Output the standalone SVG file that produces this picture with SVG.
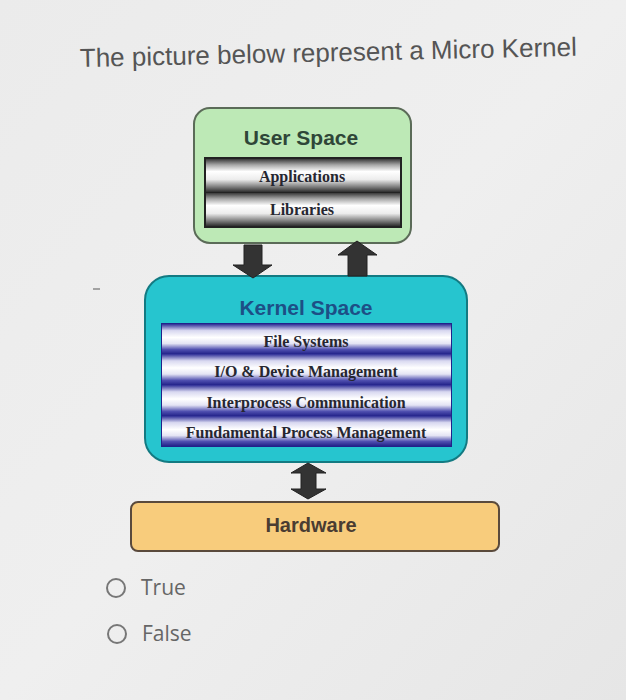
<svg xmlns="http://www.w3.org/2000/svg" width="626" height="700" viewBox="0 0 626 700">
<defs>
<linearGradient id="bg" x1="0" y1="0" x2="1" y2="1">
<stop offset="0" stop-color="#ebebeb"/>
<stop offset="0.5" stop-color="#efefef"/>
<stop offset="1" stop-color="#e6e6e6"/>
</linearGradient>
<linearGradient id="metal" x1="0" y1="0" x2="0" y2="1">
<stop offset="0" stop-color="#3a3a3a"/>
<stop offset="0.18" stop-color="#a8a8a8"/>
<stop offset="0.38" stop-color="#ffffff"/>
<stop offset="0.62" stop-color="#ececec"/>
<stop offset="0.86" stop-color="#767676"/>
<stop offset="1" stop-color="#2e2e2e"/>
</linearGradient>
<linearGradient id="blue" x1="0" y1="0" x2="0" y2="1">
<stop offset="0" stop-color="#2d2d96"/>
<stop offset="0.22" stop-color="#d8d8f0"/>
<stop offset="0.45" stop-color="#ffffff"/>
<stop offset="0.65" stop-color="#e4e4f4"/>
<stop offset="0.85" stop-color="#5050b0"/>
<stop offset="1" stop-color="#23238a"/>
</linearGradient>
</defs>
<style>
.title{font-family:"Liberation Sans",Arial,sans-serif;font-size:26px;fill:#555}
.head{font-family:"Liberation Sans",Arial,sans-serif;font-weight:bold;font-size:21px;text-anchor:middle}
.bar{font-family:"Liberation Serif","Times New Roman",serif;font-weight:bold;font-size:16px;fill:#262630;text-anchor:middle}
.opt{font-family:"Open Sans","Liberation Sans",sans-serif;font-size:21px;fill:#666}
.radio{fill:none;stroke:#777;stroke-width:2}
.arrow{fill:#333;stroke:#222;stroke-width:1}
</style>
<rect width="626" height="700" fill="url(#bg)"/>
<text class="title" x="80" y="67" transform="rotate(-1.3 80 67)">The picture below represent a Micro Kernel</text>
<line x1="93" y1="289" x2="100" y2="289" stroke="#888" stroke-width="1.5"/>

<g id="user-space">
<rect x="194" y="108" width="217" height="135" rx="16" fill="#bde9b6" stroke="#5b6b58" stroke-width="2"/>
<text class="head" x="301" y="145" fill="#2f4638">User Space</text>
<rect x="204" y="157" width="198" height="71" fill="#222"/>
<rect x="206" y="159" width="194" height="33" fill="url(#metal)"/>
<rect x="206" y="193" width="194" height="33" fill="url(#metal)"/>
<text class="bar" x="302" y="182">Applications</text>
<text class="bar" x="302" y="215">Libraries</text>
</g>

<g id="kernel-space">
<rect x="145" y="276" width="322" height="186" rx="24" fill="#26c5cf" stroke="#137a82" stroke-width="2"/>
<text class="head" x="306" y="315" fill="#1d4f86">Kernel Space</text>
<rect x="161" y="323" width="291" height="124" fill="#22228a"/>
<rect x="162" y="324" width="289" height="30" fill="url(#blue)"/>
<rect x="162" y="354" width="289" height="31" fill="url(#blue)"/>
<rect x="162" y="385" width="289" height="31" fill="url(#blue)"/>
<rect x="162" y="416" width="289" height="30" fill="url(#blue)"/>
<text class="bar" x="306" y="347">File Systems</text>
<text class="bar" x="306" y="377">I/O &amp; Device Management</text>
<text class="bar" x="306" y="408">Interprocess Communication</text>
<text class="bar" x="306" y="438">Fundamental Process Management</text>
</g>

<g id="hardware">
<rect x="131" y="502" width="368" height="49" rx="7" fill="#f8cc7c" stroke="#5a4a3c" stroke-width="2"/>
<text class="head" x="311" y="532" fill="#4a3c32" style="font-size:20px">Hardware</text>
</g>

<g id="connectors">
<path class="arrow" d="M244 245 H262 V265 H272 L253 278 L233 265 H244 Z"/>
<path class="arrow" d="M348 276 V255 H338 L357 241 L377 255 H367 V276 Z"/>
<path class="arrow" d="M301 473 H291 L308 463 L326 473 H316 V489 H326 L308 499 L291 489 H301 Z"/>
</g>

<g id="options">
<circle class="radio" cx="116" cy="588" r="9"/>
<text class="opt" x="141" y="595">True</text>
<circle class="radio" cx="117" cy="634" r="9"/>
<text class="opt" x="142" y="641">False</text>
</g>
</svg>
